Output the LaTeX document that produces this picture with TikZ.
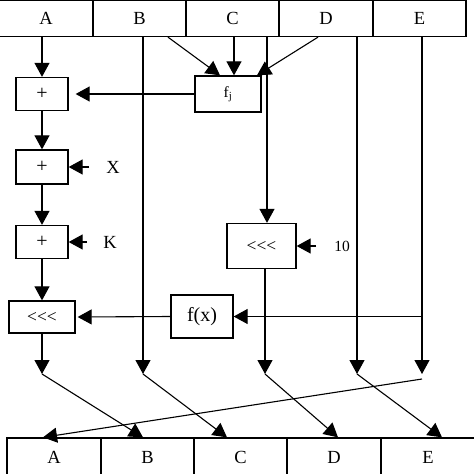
\documentclass[tikz,border=0pt]{standalone}
\usepackage{fontspec}
\setmainfont{Liberation Serif}
\usetikzlibrary{arrows.meta,calc}
\newcommand{\shl}{\mbox{<}\mbox{<}\mbox{<}}
\begin{document}
\begin{tikzpicture}[x=1pt,y=-1pt,
  box/.style={draw,line width=1.3pt,rectangle,inner sep=0pt,fill=white},
  big/.style={font=\fontsize{18.5}{19}\selectfont},
  small/.style={font=\fontsize{15.5}{16}\selectfont},
  shiftop/.style={font=\fontsize{17.5}{18}\selectfont},
  plusop/.style={font=\fontsize{20}{21}\selectfont},
  arr/.style={line width=1.1pt,-{Triangle[width=15pt,length=14pt]}}]
\useasboundingbox (0,0) rectangle (474,474);
% top row
\node[box,big,minimum width=94pt,minimum height=36pt] (tA) at (46,18.5) {A};
\node[box,big,minimum width=93pt,minimum height=36pt] (tB) at (139.5,18.5) {B};
\node[box,big,minimum width=93pt,minimum height=36pt] (tC) at (232.5,18.5) {C};
\node[box,big,minimum width=94pt,minimum height=36pt] (tD) at (326,18.5) {D};
\node[box,big,minimum width=93pt,minimum height=36pt] (tE) at (419.5,18.5) {E};
% bottom row
\node[box,big,minimum width=94pt,minimum height=38pt] (bA) at (54,457) {A};
\node[box,big,minimum width=93pt,minimum height=38pt] (bB) at (147.5,457) {B};
\node[box,big,minimum width=93pt,minimum height=38pt] (bC) at (240.5,457) {C};
\node[box,big,minimum width=94pt,minimum height=38pt] (bD) at (334,457) {D};
\node[box,big,minimum width=94pt,minimum height=38pt] (bE) at (428,457) {E};
% operation boxes
\node[box,plusop,minimum width=52pt,minimum height=33pt] (p1) at (42,94) {+};
\node[box,small,minimum width=66pt,minimum height=36pt] (fj) at (228,94) {f\textsubscript{j}};
\node[box,plusop,minimum width=52pt,minimum height=34pt] (p2) at (42,167) {+};
\node[box,plusop,minimum width=52pt,minimum height=33pt] (p3) at (42,242) {+};
\node[box,shiftop,minimum width=66pt,minimum height=32pt] (s1) at (42,317) {\shl};
\node[box,font=\fontsize{20}{21}\selectfont,minimum width=62pt,minimum height=43pt] (fx) at (202,316.5) {f(x)};
\node[box,shiftop,minimum width=69pt,minimum height=45pt] (s2) at (261.5,246) {\shl};
% labels
\node[big,inner sep=0pt] (lX) at (113,167) {X};
\node[big,inner sep=0pt] (lK) at (110,242) {K};
\node[small,inner sep=0pt] (l10) at (342,246) {10};
% junction coordinates
\coordinate (jA) at (42,374);
\coordinate (jB) at (143,374);
\coordinate (jC) at (265,374);
\coordinate (jD) at (357,374);
\coordinate (jE) at (422,374);
\coordinate (eb) at (jE |- fx.east);
% connectors
\draw[arr] (p1.north |- tA.south) -- (p1.north);
\draw[arr] ([xshift=28.5pt]tB.south) -- ([xshift=-8pt]fj.north);
\draw[arr] ([xshift=1.5pt]tC.south) -- ([xshift=6pt]fj.north);
\draw[arr] ([xshift=-8pt]tD.south) -- ([xshift=29pt]fj.north);
\draw[arr] (fj.west) -- ($(p1.east)+(7,0)$);
\draw[arr] (p1.south) -- (p2.north);
\draw[arr] ([xshift=-17pt]lX.west) -- (p2.east);
\draw[arr] (p2.south) -- (p3.north);
\draw[arr] ([xshift=-16pt]lK.west) -- (p3.east);
\draw[arr] (p3.south) -- (s1.north);
\draw[arr] (fx.west) -- ($(s1.east)+(2,0)$);
\draw[arr] ([xshift=34.5pt]tC.south) -- ([xshift=5.5pt]s2.north);
\draw[arr] ([xshift=-18pt]l10.west) -- (s2.east);
\draw[arr] (s1.south) -- (jA);
\draw[arr] (jB |- tB.south) -- (jB);
\draw[arr] ([xshift=3.5pt]s2.south) -- (jC);
\draw[arr] (jD |- tD.south) -- (jD);
\draw[arr] (jE |- tE.south) -- (jE);
\draw[arr] (eb) -- (fx.east);
% permutation
\draw[arr] (jA) -- ([xshift=-4.5pt]bB.north);
\draw[arr] (jB) -- ([xshift=-13.5pt]bC.north);
\draw[arr] (jC) -- ([xshift=4pt]bD.north);
\draw[arr] (jD) -- ([xshift=14pt]bE.north);
\draw[arr] ([yshift=-5pt]jE) -- ([xshift=-11pt]bA.north);
\end{tikzpicture}
\end{document}
